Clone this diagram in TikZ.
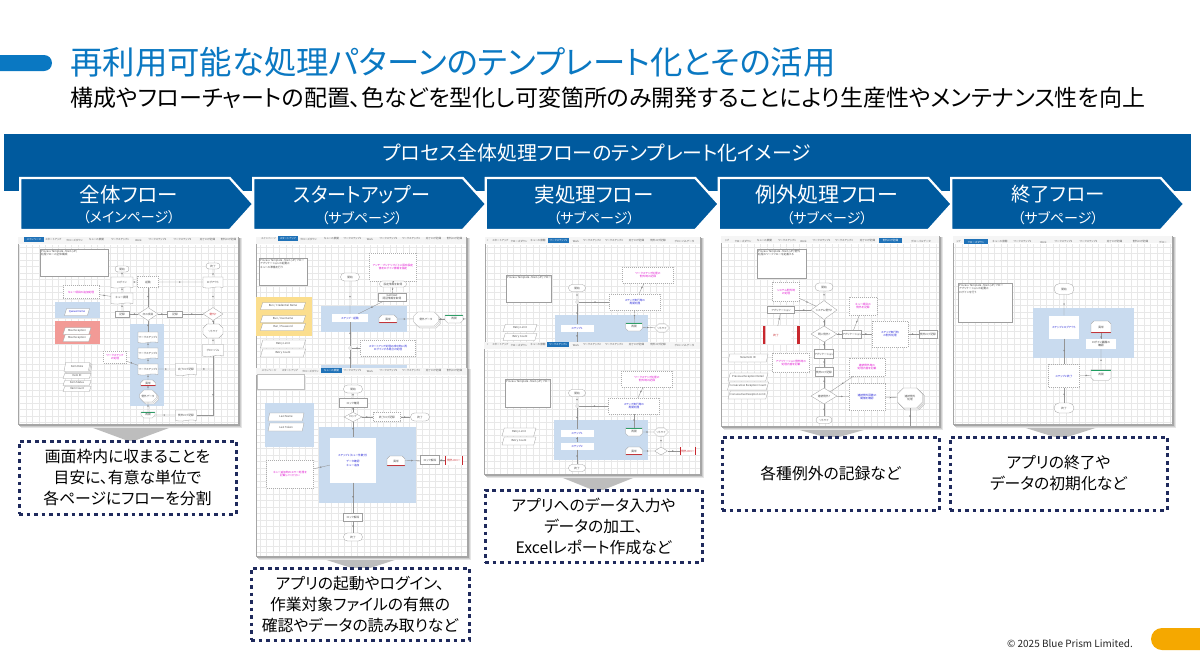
\documentclass[tikz,border=0pt]{standalone}
\usepackage{fontspec}
\setmainfont[RawFeature=+palt]{Noto Sans CJK JP}
\usetikzlibrary{shapes.geometric,shapes.symbols,shapes.misc,shadows,decorations.markings,arrows.meta}
\definecolor{bannerblue}{HTML}{005A9E}
\definecolor{titleblue}{HTML}{0A78C2}
\definecolor{navybox}{HTML}{1F2A5C}
\definecolor{pillorange}{HTML}{F5A800}
\definecolor{blockblue}{HTML}{C9DBEF}
\definecolor{blockyellow}{HTML}{FBDE8E}
\definecolor{blockred}{HTML}{F29A96}
\definecolor{tabblue}{HTML}{1F72B8}
\definecolor{notemag}{HTML}{E010D0}
\definecolor{noteblue}{HTML}{2A2AD8}
\definecolor{endred}{HTML}{C8282E}
\definecolor{stagegreen}{HTML}{1E9E60}
\newcommand{\minifont}{\fontsize{2.7}{3.3}\selectfont}
\newcommand{\nd}[7]{\node[#1,minimum width=#5pt,minimum height=#6pt] (#2) at (#3,#4) {#7};}
\newcommand{\infotext}[4]{\node[anchor=north west,inner sep=0pt,font=\minifont,align=left,text=black!70] (#1) at (#2,#3) {#4};}
\tikzset{
  x=1pt,y=-1pt,
  mbase/.style={draw=black!38,line width=.3pt,fill=white,inner sep=0pt,font=\minifont,align=center,text=black!70},
  mproc/.style={mbase,rectangle},
  mterm/.style={mbase,rounded rectangle},
  mdec/.style={mbase,diamond},
  minput/.style={mbase,trapezium,trapezium left angle=50,trapezium right angle=130,trapezium stretches body},
  mstack/.style={minput,double copy shadow={shadow xshift=1pt,shadow yshift=-1pt}},
  mhex/.style={mbase,chamfered rectangle,chamfered rectangle xsep=3pt,chamfered rectangle ysep=3pt},
  mmulti/.style={mhex,double copy shadow={shadow xshift=1pt,shadow yshift=-1pt}},
  mdoc/.style={mbase,tape,tape bend top=none,tape bend height=1pt},
  mnote/.style={mbase,draw=black!32,dash pattern=on 1pt off 1pt},
  mmag/.style={mnote,text=notemag},
  mblu/.style={mnote,text=noteblue},
  mstep/.style={mproc,draw=none,text=noteblue},
  mend/.style={mbase,chamfered rectangle,chamfered rectangle corners={north west,north east},chamfered rectangle xsep=2pt,chamfered rectangle ysep=1.6pt,
    path picture={\fill[endred] (path picture bounding box.south west) rectangle ([yshift=1.3pt]path picture bounding box.south east);}},
  mstage/.style={mbase,chamfered rectangle,chamfered rectangle corners={south west,south east},chamfered rectangle xsep=2pt,chamfered rectangle ysep=1.6pt,
    path picture={\fill[stagegreen] (path picture bounding box.north west) rectangle ([yshift=-1.3pt]path picture bounding box.north east);}},
  mredbar/.style={mproc,draw=none,text=endred,
    path picture={\fill[endred] (path picture bounding box.south west) rectangle ([xshift=1.2pt]path picture bounding box.north west);
      \fill[endred] (path picture bounding box.south east) rectangle ([xshift=-1.2pt]path picture bounding box.north east);}},
  mblock/.style={inner sep=0pt,rectangle},
  mlink/.style={draw=black!42,line width=.35pt,postaction={decorate},
    decoration={markings,mark=at position .5 with {\arrow[black!50]{Stealth[length=1.6pt,width=1.6pt]}}}},
  mjoin/.style={circle,draw=black!38,fill=white,line width=.3pt,inner sep=0pt},
  gridline/.style={draw=black!9,line width=.25pt,xstep=6.5pt,ystep=6.5pt},
  headarrow/.style={signal,signal to=east,signal pointer angle=96,fill=bannerblue,draw=white,line width=2.2pt,inner sep=0pt},
  headmain/.style={text=white,font=\fontsize{20.5}{24}\selectfont},
  headsub/.style={text=white,font=\fontsize{14}{16}\selectfont},
  callbox/.style={rectangle,draw=navybox,fill=white,line width=3pt,dash pattern=on 3.6pt off 3.9pt,inner sep=0pt,align=center,
    font=\fontsize{15.8}{21}\selectfont,text=black},
  callarrow/.style={fill=black!26,draw=none},
  tablab/.style={inner sep=0pt,font=\fontsize{2.6}{3}\selectfont,text=black!65},
}
% screenshot frame: x1 y1 x2 y2
\newcommand{\shotframe}[4]{
  \fill[black!10] (#1+3,#2+1) rectangle (#3+4,#4+4);
  \fill[black!20] (#1+2,#2+1) rectangle (#3+3,#4+3);
  \fill[black!35] (#1+1,#2+1) rectangle (#3+2,#4+2);
  \fill[white] (#1,#2) rectangle (#3,#4);
  \draw[gridline] (#1,#2+8) grid (#3,#4);
  \draw[black!35,line width=.5pt] (#1,#2) rectangle (#3,#4);
  \fill[black!4] (#1+.3,#2+.3) rectangle (#3-.3,#2+6.5);
}
% tab list: x/width/label/selected(0|1)
\newcommand{\tabbar}[2]{
  \foreach \tx/\tw/\tl/\ts [count=\ti] in {#2}{
    \ifnum\ts=1
      \fill[tabblue] (\tx,#1-2.6) rectangle (\tx+\tw,#1+2.4);
      \node[tablab,text=white] (tab\ti) at (\tx+\tw/2,#1) {\tl};
    \else
      \node[tablab] (tab\ti) at (\tx+\tw/2,#1) {\tl};
    \fi
  }
}
\newcommand{\links}[1]{\foreach \a/\b in {#1}{\draw[mlink] (\a) -- (\b);}}
\begin{document}
\begin{tikzpicture}
\useasboundingbox (0,0) rectangle (1200,662);
\fill[white] (0,0) rectangle (1200,662);

% ---- header ----
\fill[titleblue] (0,55) -- (44,55) arc[start angle=90,end angle=-90,x radius=8,y radius=-8] -- (0,71) -- cycle;
\node[anchor=west,inner sep=0pt,text=titleblue,font=\fontsize{32.4}{36}\selectfont] (title) at (70,62) {再利用可能な処理パターンのテンプレート化とその活用};
\node[anchor=west,inner sep=0pt,text=black,font=\fontsize{23}{26}\selectfont] (subtitle) at (70,98) {構成やフローチャートの配置、色などを型化し可変箇所のみ開発することにより生産性やメンテナンス性を向上};

\node[rectangle,fill=bannerblue,inner sep=0pt,minimum width=1187pt,minimum height=57pt] (banner) at (597.5,162.5) {};
\node[text=white,inner sep=0pt,font=\fontsize{19.9}{24}\selectfont] (bannertext) at (597,153) {プロセス全体処理フローのテンプレート化イメージ};

\nd{headarrow}{h1}{125}{204}{233}{52}{}
\nd{headarrow}{h2}{358}{204}{233}{52}{}
\nd{headarrow}{h3}{590.5}{204}{233}{52}{}
\nd{headarrow}{h4}{823.5}{204}{233}{52}{}
\nd{headarrow}{h5}{1056}{204}{233}{52}{}
\node[headmain] (h1a) at (129,194.5) {全体フロー};
\node[headsub] (h1b) at (129,217) {（メインページ）};
\node[headmain] (h2a) at (362,194.5) {\scalebox{.93}[1]{スタートアップー}};
\node[headsub] (h2b) at (362,218) {（サブページ）};
\node[headmain] (h3a) at (594,194.5) {実処理フロー};
\node[headsub] (h3b) at (594,218) {（サブページ）};
\node[headmain,font=\fontsize{21}{24}\selectfont] (h4a) at (827,194.5) {例外処理フロー};
\node[headsub] (h4b) at (827,218) {（サブページ）};
\node[headmain,font=\fontsize{19.5}{24}\selectfont] (h5a) at (1058,194.5) {終了フロー};
\node[headsub] (h5b) at (1058,218) {（サブページ）};

% ---- callout arrows and boxes ----
\fill[callarrow] (85,425) -- (177,425) -- (131,442) -- cycle;
\fill[callarrow] (314,556) -- (407,556) -- (361,571) -- cycle;
\fill[callarrow] (553,474) -- (643,474) -- (598,492) -- cycle;
\fill[callarrow] (785,426) -- (878,426) -- (832,439) -- cycle;
\fill[callarrow] (1013,424) -- (1108,424) -- (1061,439) -- cycle;
\nd{callbox}{c1}{127.5}{477.5}{217}{73}{画面枠内に収まることを\\目安に、有意な単位で\\各ページにフローを分割}
\nd{callbox}{c2}{360}{604}{218}{72}{アプリの起動やログイン、\\作業対象ファイルの有無の\\確認やデータの読み取りなど}
\nd{callbox}{c3}{593.5}{526}{217}{72}{アプリへのデータ入力や\\データの加工、\\Excelレポート作成など}
\nd{callbox}{c4}{830.5}{473.5}{217}{73}{各種例外の記録など}
\nd{callbox}{c5}{1058.5}{473.5}{217}{73}{アプリの終了や\\データの初期化など}

% ---- screenshot 1 : main page ----
\begin{scope}[name prefix=a-]
\shotframe{18}{237}{238}{424}
\tabbar{240}{24/20/メインページ/1,44/19/スタートアップ/0,64/21/クローズダウン/0,86/21/キューの展開/0,109/22/ワークステップ1/0,132/13/Work/0,146/23/ワークステップ2/0,171/23/ワークステップ3/0,196/23/完了ログ記録/0,220/17/例外ログ記録/0}
\nd{mproc}{info}{74}{262.5}{68}{27}{}
\infotext{infot}{41}{250}{Process Template - Main (JP)\\処理フローの全体構成}
\nd{mterm}{start}{122}{269}{14}{6}{開始}
\nd{mdoc}{login}{122}{282}{22}{11}{ログイン}
\nd{mnote}{d1}{148}{282}{21}{11}{起動}
\nd{mdoc}{logout}{213}{282}{20}{11}{ログアウト}
\nd{mterm}{stop}{213}{266}{14}{6}{終了}
\nd{mdoc}{que}{122}{298}{22}{11}{キュー展開}
\nd{mmag}{n1}{81}{292}{36}{13}{キュー項目の追加処理}
\nd{mproc}{p1}{122}{314}{14}{6}{記録}
\nd{mdec}{dia}{148}{314}{20}{12}{次の項目}
\nd{mproc}{p2}{175}{314}{15}{6}{記録}
\nd{mdec}{dred}{213}{314}{20}{13}{\textcolor{endred}{例外?}}
\nd{mhex}{hx}{213}{331}{20}{14}{リトライ}
\nd{mdoc}{dr}{213}{350}{21}{12}{グローバル}
\nd{mblock,fill=blockblue}{b1}{77.5}{310}{45}{16}{}
\nd{minput,text=noteblue}{i1}{77}{312}{25}{7}{Queue Name}
\nd{mblock,fill=blockred}{b2}{77.5}{332.5}{45}{23}{}
\nd{minput}{i2}{77}{331}{28}{7}{Max Exception}
\nd{minput}{i3}{77}{338}{28}{7}{Max Exception}
\nd{mblock,fill=blockblue}{b3}{147}{365}{34}{82}{}
\nd{mdoc}{s1}{148}{337}{20}{11}{ワークステップ1}
\nd{mdoc}{s2}{148}{353}{20}{11}{ワークステップ2}
\nd{mdoc}{s3}{148}{369}{20}{11}{ワークステップ3}
\nd{mend}{e1}{148}{383}{15}{6}{異常}
\nd{mmulti}{hx2}{148}{396}{17}{12}{例外データ}
\nd{mmag}{n2}{115}{357}{23}{12}{ワークステップ\\の処理}
\nd{mdoc}{r1}{186}{369}{21}{12}{完了ログ記録}
\nd{mdoc}{r2}{186}{415}{21}{11}{例外ログ記録}
\nd{mstage}{g1}{148}{415}{14}{6}{再開}
\nd{mstack}{i4}{77}{367}{26}{9}{Item Data}
\nd{minput}{i5}{77}{376}{28}{5}{Item ID}
\nd{minput}{i6}{77}{383}{28}{5}{Item Status}
\nd{minput}{i7}{77}{389}{28}{5}{Item Count}
\links{start/login,login/que,que/p1,login/d1,d1/logout,logout/stop,logout/dred,d1/dia,dia/p1,dia/p2,p2/dred,dred/hx,hx/dr,dia/s1,s1/s2,s2/s3,s3/e1,e1/hx2,hx2/g1,s3/r1,g1/r2,n1/que,n2/s3}
\draw[mlink] (r1) -- (r1 -| dr);
\draw[mlink] (r2) -| (dr);
\end{scope}

% ---- screenshot 2a : startup ----
\begin{scope}[name prefix=b-]
\shotframe{256}{237}{466}{423}
\tabbar{239}{259/19/メインページ/0,278/20/スタートアップ/1,298/21/クローズダウン/0,321/21/キューの展開/0,343/19/ワークステップ1/0,364/12/Work/0,377/23/ワークステップ2/0,400/22/ワークステップ3/0,423/21/完了ログ記録/0,444/21/例外ログ記録/0}
\nd{mproc}{info}{283}{271.5}{48}{27}{}
\infotext{infot}{260}{259}{Process Template - Main (JP) フロー\\アプリケーションの起動と\\キューの準備を行う}
\nd{mterm}{start}{350}{277}{19}{8}{開始}
\nd{mmag}{n1}{393}{267}{47}{28}{アンチ―プシナリオごとに固有設定\\値をログイン情報を指定}
\nd{mterm}{dec}{393}{284}{27}{6}{設定情報を取得}
\nd{mproc}{p1}{392}{297}{28}{8}{Get Next\\認証情報を取得}
\nd{mblock,fill=blockyellow}{by}{284}{316.5}{56}{39}{}
\nd{minput}{i1}{283}{306}{45}{7}{Run / Credential Name}
\nd{minput}{i2}{283}{319}{45}{7}{Run / Username}
\nd{minput}{i3}{283}{327}{45}{7}{Run / Password}
\nd{minput}{i4}{283}{344}{45}{8}{Retry Limit}
\nd{minput}{i5}{283}{353}{45}{8}{Retry Count}
\nd{mblock,fill=blockblue}{bb}{364}{319}{86}{26}{}
\nd{mstep}{step}{350}{318}{36}{8}{ステップ―起動}
\nd{mend}{e1}{388}{319}{18}{8}{異常}
\nd{mmulti}{hx}{426}{319}{25}{14}{例外データ}
\nd{mstage}{g1}{454}{319}{18}{8}{再開}
\nd{mjoin}{j1}{350}{348}{3}{3}{}
\nd{mblu}{n2}{388}{348}{55}{16}{スタートアップ処理の成功時に再\\ログインする場合の処理}
\nd{mblock,fill=blockblue}{bb2}{364}{366.5}{86}{3}{}
\coordinate (out) at (466,319);
\coordinate (low) at (350,368);
\links{start/step,step/j1,j1/low,n1/dec,dec/p1,p1/step,e1/hx,hx/g1,g1/out,n2/j1}
\end{scope}

% ---- screenshot 2b : queue ----
\begin{scope}[name prefix=c-]
\shotframe{256}{368}{467}{556}
\tabbar{371}{259/20/メインページ/0,280/20/スタートアップ/0,301/19/クローズダウン/0,321/21/キューの展開/1,343/19/ワークステップ1/0,364/12/Work/0,377/23/ワークステップ2/0,400/22/ワークステップ3/0,423/21/完了ログ記録/0,444/21/例外ログ記録/0}
\nd{mproc,draw=black!25}{info}{280.5}{381.5}{47}{15}{}
\nd{mterm}{start}{353}{389}{19}{8}{開始}
\nd{mproc}{p1}{353}{403}{28}{9}{ロック確認}
\nd{mdec}{dia}{353}{417}{18}{8}{ロック}
\nd{mnote}{p2}{387}{417}{27}{9}{終了ログ記録}
\nd{mterm}{stop}{420}{417}{19}{8}{終了}
\nd{mblock,fill=blockblue}{b1}{289.5}{425}{49}{44}{}
\nd{minput}{i1}{286}{417}{36}{8}{Last Name}
\nd{minput}{i2}{286}{427}{36}{8}{Last Token}
\nd{mblock,fill=blockblue}{b2}{367.5}{465}{97}{76}{}
\nd{mstep}{step}{353}{460}{46}{45}{ステップ1（キュー件数分）\\\\データ確認\\キュー追加}
\nd{mend}{e1}{396}{461}{18}{10}{異常}
\nd{mproc}{p3}{430}{460}{19}{9}{ロック解除}
\nd{mredbar}{rb}{454}{460}{18}{9}{例外スロー}
\nd{mmag}{n1}{290}{474}{47}{28}{キュー追加時のエラー処理を\\記載してください}
\nd{mproc}{p4}{353}{517}{19}{8}{ロック解除}
\nd{mterm}{stop2}{353}{537}{19}{8}{終了}
\links{start/p1,p1/dia,dia/p2,p2/stop,dia/step,step/p4,p4/stop2,e1/p3,p3/rb,n1/step}
\end{scope}

% ---- screenshot 3a : work step ----
\begin{scope}[name prefix=d-]
\shotframe{485}{237}{700}{342}
\tabbar{241}{485/5/\textless/0,492/17/スタートアップ/0,510/18/クローズダウン/0,529/18/キューの展開/0,548/21/ワークステップ1/1,571/10/Work/0,582/20/ワークステップ2/0,603/22/ワークステップ3/0,626/21/完了ログ記録/0,648/20/例外ログ記録/0,670/29/グローバルデータ/0}
\nd{mproc}{info}{528.5}{288.5}{45}{27}{}
\infotext{infot}{507}{276}{Process Template - Main (JP) フロー}
\nd{mterm}{start}{577}{288}{17}{7}{開始}
\nd{mmag}{n1}{648}{275}{51}{16}{ワークステップ処理の\\例外時の記録}
\nd{mblu}{n2}{635}{302}{51}{16}{ステップ実行時の\\再開処理}
\nd{mjoin}{j1}{577}{302}{3}{3}{}
\nd{mblock,fill=blockblue}{bb}{601.5}{328.5}{93}{27}{}
\nd{mstep}{step}{577}{328}{33}{7}{ステップ1}
\nd{mstage}{g1}{634}{327}{17}{8}{再開}
\nd{mhex}{hx}{662}{328}{15}{7}{リトライ}
\nd{minput}{i1}{520}{328}{34}{7}{Retry Limit}
\nd{minput}{i2}{520}{337}{34}{7}{Retry Count}
\coordinate (low) at (577,342);
\links{start/j1,j1/step,step/low,n2/j1,n1/n2,n2/g1,g1/hx}
\end{scope}

% ---- screenshot 3b : work step ----
\begin{scope}[name prefix=e-]
\shotframe{484}{342}{700}{474}
\tabbar{345}{485/5/\textless/0,492/17/スタートアップ/0,510/18/クローズダウン/0,529/18/キューの展開/0,547/22/ワークステップ1/1,571/10/Work/0,582/20/ワークステップ2/0,603/22/ワークステップ3/0,626/21/完了ログ記録/0,648/20/例外ログ記録/0,670/29/グローバルデータ/0}
\nd{mproc}{info}{527.5}{393}{45}{28}{}
\infotext{infot}{506}{380}{Process Template - Main (JP) フロー}
\nd{mterm}{start}{577}{393}{17}{7}{開始}
\nd{mmag}{n1}{647}{379}{51}{16}{ワークステップ処理の\\例外時の記録}
\nd{mblu}{n2}{634}{406}{51}{16}{ステップ実行時の\\再開処理}
\nd{mjoin}{j1}{577}{406}{3}{3}{}
\nd{mblock,fill=blockblue}{bb}{601}{440}{94}{40}{}
\nd{mstep}{s1}{577}{433}{33}{7}{ステップ1}
\nd{mstep}{s2}{577}{446}{33}{7}{ステップ2}
\nd{mstage}{g1}{634}{432}{17}{8}{再開}
\nd{mend}{e1}{634}{451}{17}{8}{異常}
\nd{mhex}{hx}{661}{432}{15}{7}{リトライ}
\nd{mdec}{dia}{661}{451}{13}{8}{}
\nd{mredbar}{rb}{688}{451}{16}{8}{例外スロー}
\nd{minput}{i1}{519}{432}{34}{8}{Retry Limit}
\nd{minput}{i2}{519}{441}{34}{8}{Retry Count}
\nd{mterm}{stop}{577}{468}{17}{7}{終了}
\links{start/j1,j1/s1,s1/s2,s2/stop,n2/j1,n1/n2,n2/g1,g1/hx,hx/dia,e1/dia,dia/rb}
\end{scope}

% ---- screenshot 4 : exception ----
\begin{scope}[name prefix=f-]
\shotframe{721}{236}{939}{426}
\tabbar{241}{722/10/ップ/0,734/18/クローズダウン/0,754/21/キューの展開/0,777/20/ワークステップ1/0,798/11/Work/0,811/21/ワークステップ2/0,833/22/ワークステップ3/0,857/21/完了ログ記録/0,879/23/例外ログ記録/1,904/34/グローバルデータ/0}
\nd{mproc}{info}{781.5}{263.5}{49}{29}{}
\infotext{infot}{758}{250}{Process Template - Main (JP) 例外\\処理のワークフローを定義する}
\nd{mterm}{start}{824}{287}{18}{8}{開始}
\nd{mmag}{n1}{786}{292}{27}{19}{システム例外時\\の処理}
\nd{mdec}{d1}{824}{310}{26}{16}{システム例外?}
\nd{mproc}{p1}{781}{310}{27}{7}{アプリケーション}
\nd{mproc,draw=none,fill=endred}{red1}{764.5}{335}{3}{18}{}
\nd{mproc,draw=none,fill=endred}{red2}{798.5}{335}{3}{18}{}
\nd{mbase,signal,signal to=east,signal pointer angle=100,text=endred,draw=none}{red}{776}{335}{29}{18}{終了}
\nd{mdec}{d2}{824}{334}{26}{16}{既に例外?}
\nd{mproc}{p2}{852}{334}{18}{8}{アプリケーション}
\nd{mmag}{n2}{863}{306}{28}{18}{キュー項目の\\例外を記録}
\nd{mblu}{n3}{890}{334}{36}{26}{ステップ実行時\\の例外処理}
\nd{mproc}{p3}{928}{334}{18}{8}{例外ログ記録}
\nd{mproc}{p4}{824}{354}{18}{9}{アプリケーション}
\nd{mmag}{n4}{791}{363}{37}{19}{アプリケーション例外時の\\処理内容を記載}
\nd{mproc}{p5}{824}{372}{18}{9}{例外ログ記録}
\nd{mdec}{d3}{824}{396}{26}{16}{連続例外?}
\nd{mmag}{n5}{867}{367}{36}{18}{連続例外時の\\処理内容を記載}
\nd{mblu}{n6}{867}{397}{36}{27}{連続例外回数の\\閾値を確認}
\nd{mmulti}{hx}{910}{398}{25}{20}{連続例外\\処理}
\nd{mterm}{stop}{824}{420}{16}{7}{リトライ}
\nd{minput}{i1}{748}{358}{40}{8}{New Item ID}
\nd{minput}{i2}{748}{377}{40}{8}{Previous Exception Detail}
\nd{minput}{i3}{748}{386}{40}{8}{Consecutive Exception Count}
\nd{minput}{i4}{748}{395}{40}{8}{Consecutive Exception Limit}
\coordinate (out) at (910,426);
\links{start/d1,d1/d2,d2/p2,p2/n3,n3/p3,d2/p4,p4/p5,p5/d3,d3/stop,d1/p1,p1/red,n1/d1,n2/p2,n5/d3,d3/n6,n6/hx,hx/out}
\end{scope}

% ---- screenshot 5 : closedown ----
\begin{scope}[name prefix=g-]
\shotframe{953}{236}{1172}{424}
\tabbar{242}{954/9/ップ/0,964/24/クローズダウン/1,990/20/キューの展開/0,1012/21/ワークステップ1/0,1037/13/Work/0,1052/23/ワークステップ2/0,1077/23/ワークステップ3/0,1103/23/完了ログ記録/0,1129/23/例外ログ記録/0,1155/16/グロー/0}
\nd{mproc}{info}{985}{302.5}{54}{39}{}
\infotext{infot}{959}{284}{Process Template - Main (JP) フロー\\アプリケーションの起動と\\ログインを行う}
\nd{mterm}{start}{1064}{289}{20}{11}{開始}
\nd{mblock,fill=blockblue}{bb}{1083.5}{333}{101}{50}{}
\nd{mstep}{step}{1064}{327}{30}{23}{ステップ1 ログアウト}
\nd{mend}{e1}{1101}{327}{20}{12}{異常}
\nd{mstep,text=black!80}{p1}{1101}{344}{30}{10}{ログイン画面の\\確認}
\nd{mblu,minimum width=31pt}{s2}{1064}{376}{31}{23}{ステップ2 終了}
\nd{mstage}{g1}{1101}{375}{20}{11}{再開}
\nd{mterm}{stop}{1064}{408}{20}{10}{終了}
\links{start/step,step/s2,s2/stop,g1/s2,g1/p1,p1/e1}
\end{scope}

% ---- footer ----
\node[anchor=east,inner sep=0pt,font=\fontsize{10}{12}\selectfont,text=black!85] (copy) at (1133,644) {© 2025 Blue Prism Limited.};
\fill[pillorange] (1200,628) -- (1162,628) arc[start angle=90,end angle=270,x radius=11,y radius=-11] -- (1200,650) -- cycle;
\end{tikzpicture}
\end{document}
